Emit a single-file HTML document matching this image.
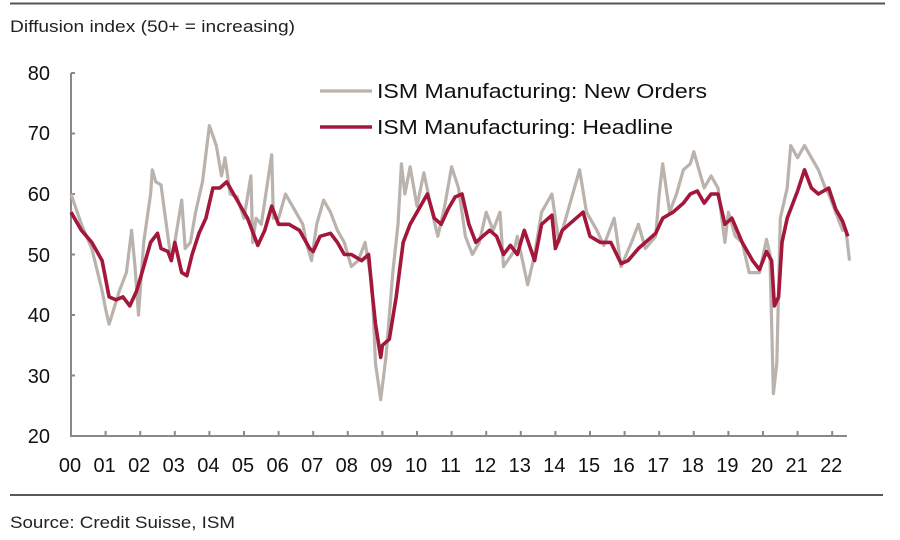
<!DOCTYPE html>
<html><head><meta charset="utf-8"><style>
html,body{margin:0;padding:0;background:#fff;}
svg{display:block;font-family:"Liberation Sans",Arial,sans-serif;}
</style></head><body>
<svg id="s" width="900" height="540" viewBox="0 0 900 540" xmlns="http://www.w3.org/2000/svg">
<rect width="900" height="540" fill="#fff"/>
<line x1="10" y1="3.5" x2="885" y2="3.5" stroke="#555" stroke-width="2"/>
<text x="10" y="32" font-size="17" fill="#222" textLength="285" lengthAdjust="spacingAndGlyphs">Diffusion index (50+ = increasing)</text>
<g font-size="20" fill="#111" text-anchor="end">
<text x="50" y="80">80</text><text x="50" y="140">70</text><text x="50" y="201">60</text>
<text x="50" y="262">50</text><text x="50" y="322">40</text><text x="50" y="383">30</text><text x="50" y="443">20</text>
</g>
<g id="axes" stroke="#888" stroke-width="2" fill="none"></g>
<g id="xl" font-size="20" fill="#111" text-anchor="middle"></g>
<polyline id="no" fill="none" stroke="#bab2ac" stroke-width="3.2" stroke-linejoin="round"/>
<polyline id="hd" fill="none" stroke="#a3173a" stroke-width="3.6" stroke-linejoin="round"/>
<line x1="320" y1="91" x2="372" y2="91" stroke="#bab2ac" stroke-width="3.2"/>
<line x1="320" y1="127" x2="372" y2="127" stroke="#a3173a" stroke-width="3.6"/>
<text x="377" y="98" font-size="20" fill="#111" textLength="330" lengthAdjust="spacingAndGlyphs">ISM Manufacturing: New Orders</text>
<text x="377" y="134" font-size="20" fill="#111" textLength="296" lengthAdjust="spacingAndGlyphs">ISM Manufacturing: Headline</text>
<line x1="10" y1="495" x2="883" y2="495" stroke="#222" stroke-width="1.5"/>
<text x="10" y="528" font-size="17" fill="#222" textLength="225" lengthAdjust="spacingAndGlyphs">Source: Credit Suisse, ISM</text>
</svg>
<script>
var X=function(t){return 71+34.6*t},Y=function(v){return 436-(v-20)*6.05};
var ax=document.getElementById('axes'),xl=document.getElementById('xl'),ns="http://www.w3.org/2000/svg";
var p=document.createElementNS(ns,'path');var d="M71 73 L75 73 M71 73 L71 436 L847 436";
[133.5,194,254.5,315,375.5].forEach(function(y){d+=" M71 "+y+" L75 "+y});
for(var k=1;k<=22;k++){d+=" M"+X(k)+" 436 L"+X(k)+" 431"}
p.setAttribute('d',d);ax.appendChild(p);
for(var k=0;k<=22;k++){var t=document.createElementNS(ns,'text');t.setAttribute('x',X(k)-1);t.setAttribute('y',472);t.textContent=(k<10?'0':'')+k;xl.appendChild(t);}
var H=[0,57,.3,54,.6,52,.9,49,1.1,43,1.3,42.5,1.5,43,1.7,41.5,1.9,44,2.0,46,2.1,48,2.3,52,2.5,53.5,2.6,51,2.8,50.5,2.9,49,3.0,52,3.2,47,3.35,46.5,3.5,50,3.7,53.5,3.9,56,4.1,61,4.3,61,4.5,62,4.7,60,4.9,58,5.1,56,5.3,53,5.4,51.5,5.6,54,5.8,58,6.0,55,6.3,55,6.6,54,6.9,51,7.0,50.5,7.2,53,7.5,53.5,7.7,52,7.9,50,8.1,50,8.4,49,8.6,50,8.7,44,8.8,38.5,8.95,33,9.0,35,9.2,36,9.4,43,9.6,52,9.8,55,10.0,57,10.3,60,10.5,56,10.7,55,10.9,57.5,11.1,59.5,11.3,60,11.5,55,11.7,52,11.9,53,12.1,54,12.3,53,12.5,50,12.7,51.5,12.9,50,13.1,54,13.4,49,13.6,55,13.9,56.5,14.0,51,14.2,54,14.5,55.5,14.8,57,15.0,53,15.3,52,15.6,52,15.9,48.5,16.1,49,16.4,51,16.6,52,16.9,53.5,17.1,56,17.4,57,17.7,58.5,17.9,60,18.1,60.5,18.3,58.5,18.5,60,18.7,60,18.9,55,19.1,56,19.4,52,19.7,49,19.9,47.5,20.1,50.5,20.25,49,20.33,41.5,20.45,43,20.55,52,20.7,56,20.9,59,21.0,60.5,21.2,64,21.4,61,21.6,60,21.9,61,22.1,57.5,22.3,55.5,22.45,53];
var N=[0,60,.3,55,.6,51,.9,44,1.0,41,1.1,38.5,1.4,44,1.6,47,1.75,54,1.85,48,1.95,40,2.1,52,2.3,60,2.35,64,2.45,62,2.6,61.5,2.8,53,2.9,49,3.0,52,3.2,59,3.3,51,3.45,52,3.6,57,3.8,62,4.0,71.3,4.2,68,4.35,63,4.45,66,4.6,60,4.8,59.5,5.0,56,5.2,63,5.25,52,5.35,56,5.5,55,5.8,66.5,5.85,56,6.0,56,6.2,60,6.4,58,6.7,55,6.8,52,6.95,49,7.1,55,7.3,59,7.5,57,7.7,54,7.9,52,8.1,48,8.3,49,8.5,52,8.7,45,8.8,32,8.95,26,9.1,33,9.3,47,9.45,55,9.55,65,9.65,60,9.8,64.5,10.0,58,10.2,63.5,10.4,58,10.6,53,10.8,58,11.0,64.5,11.2,61,11.4,53,11.6,50,11.8,52,12.0,57,12.2,54,12.4,57,12.5,48,12.8,50.5,12.9,53,13.2,45,13.4,50,13.6,57,13.9,60,14.1,52,14.3,56,14.5,60,14.7,64,14.9,57,15.2,54,15.4,51.5,15.7,56,15.9,48,16.2,52,16.4,55,16.6,51,16.9,53,17.0,60,17.1,65,17.3,57,17.5,60,17.7,64,17.9,65,18.0,67,18.3,61,18.5,63,18.7,61,18.9,52,19.0,57,19.2,53,19.4,52,19.6,47,19.9,47,20.1,52.5,20.2,50,20.3,27,20.4,32,20.5,56,20.7,61,20.8,68,21.0,66,21.2,68,21.4,66,21.6,64,21.8,61,21.9,60,22.1,57,22.3,54,22.4,54,22.5,49];
function pts(a){var s=[];for(var i=0;i<a.length;i+=2)s.push(X(a[i]).toFixed(1)+","+Y(a[i+1]).toFixed(1));return s.join(" ")}
document.getElementById('no').setAttribute('points',pts(N));
document.getElementById('hd').setAttribute('points',pts(H));
</script>
</body></html>
